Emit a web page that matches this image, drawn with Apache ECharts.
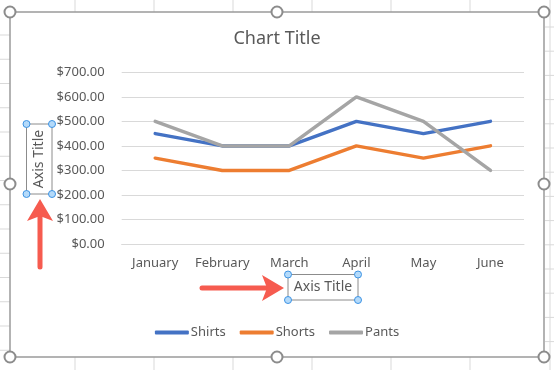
<!DOCTYPE html>
<html lang="en">

<head>
    <meta charset="UTF-8" />
    <title>Chart Title</title>
    <script src="https://cdn.jsdelivr.net/npm/echarts@6/dist/echarts.min.js"></script>
</head>
<style>
    * {
        margin: 0;
        padding: 0;
    }

    #main {
        width: 554px;
        height: 370px;
        background: #fff;
    }
</style>

<body>
    <div id="main"></div>
</body>
<script>
    const months = ["January", "February", "March", "April", "May", "June"];
    const shirts = [450, 400, 400, 500, 450, 500];
    const shorts = [350, 300, 300, 400, 350, 400];
    const pants = [500, 400, 400, 600, 500, 300];
    const seriesNames = ["Shirts", "Shorts", "Pants"];

    var myChart = echarts.init(document.getElementById("main"));

    // spreadsheet cells around the chart
    function sheetLines() {
        let els = [];
        const cols = [75, 154, 233, 312, 391, 470];
        const st = { stroke: "#d9d9d9", lineWidth: 1 };
        cols.forEach((x) => {
            els.push({ type: "line", shape: { x1: x, y1: 0, x2: x, y2: 12 }, style: st, z: 0 });
            els.push({ type: "line", shape: { x1: x, y1: 357, x2: x, y2: 370 }, style: st, z: 0 });
        });
        els.push({ type: "line", shape: { x1: 550, y1: 0, x2: 550, y2: 370 }, style: st, z: 0 });
        for (let y = 35; y < 357; y += 24.25) {
            els.push({ type: "line", shape: { x1: 0, y1: y, x2: 10, y2: y }, style: st, z: 0 });
        }
        for (let y = 27; y < 357; y += 24.2) {
            els.push({ type: "line", shape: { x1: 545, y1: y, x2: 554, y2: y }, style: st, z: 0 });
        }
        return els;
    }

    function grayHandle(x, y) {
        return { type: "circle", shape: { cx: x, cy: y, r: 5.5 }, style: { fill: "#fff", stroke: "#8c8c8c", lineWidth: 2 }, z: 20 };
    }

    function blueHandle(x, y) {
        return { type: "circle", shape: { cx: x, cy: y, r: 3.5 }, style: { fill: "#b4dafa", stroke: "#3d93e3", lineWidth: 1 }, z: 20 };
    }

    let graphics = sheetLines();
    // chart border
    graphics.push({ type: "rect", shape: { x: 10, y: 12, width: 534, height: 345 }, style: { fill: "none", stroke: "#9a9a9a", lineWidth: 1.5 }, z: 1 });
    [[10, 12], [277, 12], [544, 12], [10, 184], [544, 184], [10, 357], [277, 357], [544, 357]].forEach((p) => {
        graphics.push(grayHandle(p[0], p[1]));
    });
    // y axis title box
    graphics.push({ type: "rect", shape: { x: 26.5, y: 124, width: 25.5, height: 70 }, style: { fill: "none", stroke: "#8c8c8c", lineWidth: 1 }, z: 10 });
    graphics.push({ type: "text", x: 39, y: 159, rotation: Math.PI / 2, style: { text: "Axis Title", fill: "#595959", font: "14px 'Noto Sans'", textAlign: "center", textVerticalAlign: "middle" }, z: 11 });
    [[26.5, 124], [52, 124], [26.5, 194], [52, 194]].forEach((p) => graphics.push(blueHandle(p[0], p[1])));
    // x axis title box
    graphics.push({ type: "rect", shape: { x: 288, y: 274.5, width: 70, height: 25.5 }, style: { fill: "none", stroke: "#8c8c8c", lineWidth: 1 }, z: 10 });
    graphics.push({ type: "text", x: 323, y: 287.5, style: { text: "Axis Title", fill: "#595959", font: "14px 'Noto Sans'", textAlign: "center", textVerticalAlign: "middle" }, z: 11 });
    [[288, 274.5], [358, 274.5], [288, 300], [358, 300]].forEach((p) => graphics.push(blueHandle(p[0], p[1])));
    // red arrows
    graphics.push({ type: "line", shape: { x1: 40, y1: 267, x2: 40, y2: 215 }, style: { stroke: "#f65b4f", lineWidth: 5, lineCap: "round" }, z: 12 });
    graphics.push({ type: "polygon", shape: { points: [[40, 199], [53, 221], [40, 216], [27, 221]] }, style: { fill: "#f65b4f" }, z: 12 });
    graphics.push({ type: "line", shape: { x1: 202, y1: 288, x2: 266, y2: 288 }, style: { stroke: "#f65b4f", lineWidth: 5, lineCap: "round" }, z: 12 });
    graphics.push({ type: "polygon", shape: { points: [[284, 288], [262, 275], [267, 288], [262, 301]] }, style: { fill: "#f65b4f" }, z: 12 });

    function makeSeries(name, data, color) {
        return {
            name: name,
            type: "line",
            data: data,
            showSymbol: false,
            symbol: "none",
            lineStyle: { width: 3.5, color: color, cap: "round" },
            itemStyle: { color: color },
            z: 5,
        };
    }

    var option = {
        animation: false,
        title: {
            text: "Chart Title",
            left: "center",
            top: 25,
            textStyle: { color: "#595959", fontSize: 18, fontWeight: "normal", fontFamily: "Noto Sans" },
        },
        legend: {
            data: seriesNames,
            bottom: 26,
            left: "center",
            icon: "roundRect",
            itemWidth: 34,
            itemHeight: 4,
            itemGap: 14,
            textStyle: { color: "#595959", fontSize: 13, fontFamily: "Noto Sans", padding: [0, 0, 0, -3] },
        },
        grid: { left: 121.7, right: 30, top: 72.3, bottom: 126, containLabel: false },
        xAxis: {
            type: "category",
            data: months,
            boundaryGap: true,
            axisLine: { show: true, lineStyle: { color: "#d9d9d9" } },
            axisTick: { show: false },
            axisLabel: { color: "#595959", fontSize: 13, fontFamily: "Noto Sans", margin: 13, interval: 0 },
        },
        yAxis: {
            type: "value",
            min: 0,
            max: 700,
            interval: 100,
            axisLine: { show: false },
            axisTick: { show: false },
            splitLine: { lineStyle: { color: "#d9d9d9" } },
            axisLabel: {
                color: "#595959",
                fontSize: 13,
                fontFamily: "Noto Sans",
                margin: 17,
                formatter: (v) => "$" + v.toFixed(2),
            },
        },
        graphic: graphics,
        series: [
            makeSeries(seriesNames[0], shirts, "#4472c4"),
            makeSeries(seriesNames[1], shorts, "#ed7d31"),
            makeSeries(seriesNames[2], pants, "#a5a5a5"),
        ],
    };
    option && myChart.setOption(option);
</script>

</html>
